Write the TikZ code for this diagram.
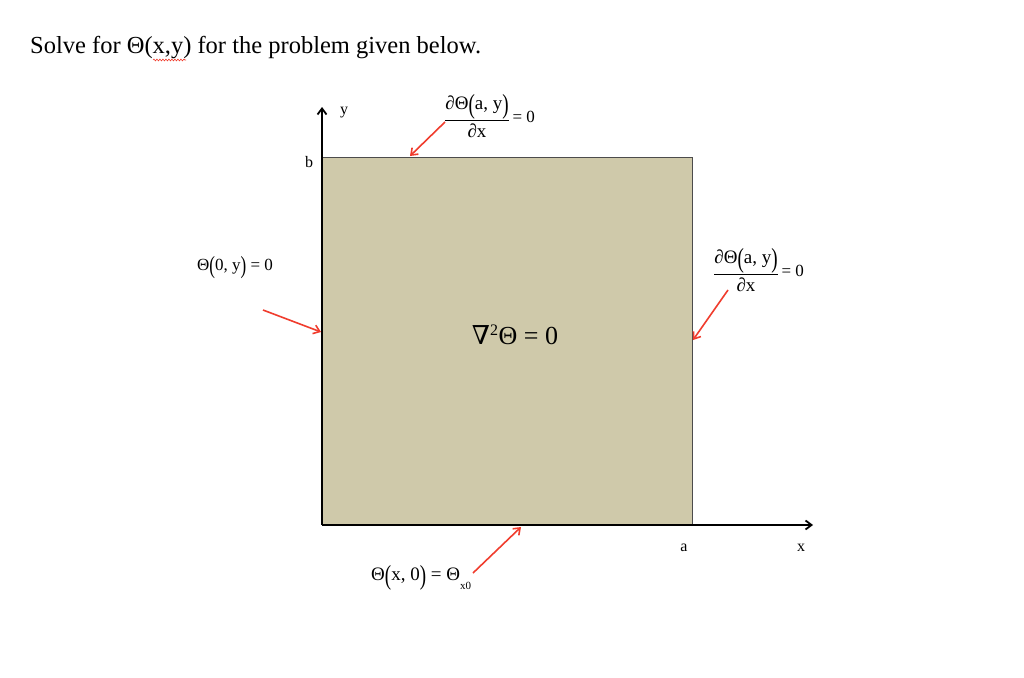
\documentclass[tikz,border=0pt]{standalone}
\usepackage{fontspec}
\usepackage{graphicx}
\setmainfont{Liberation Serif}
\newfontfamily\dvs{DejaVu Serif}
\usetikzlibrary{arrows.meta,decorations.pathmorphing}
\definecolor{tan}{RGB}{207,201,170}
\definecolor{redarrow}{RGB}{240,60,45}
\newcommand{\bigp}[1]{\raisebox{-0.22em}{\scalebox{1}[1.45]{#1}}}
\newcommand{\fracbc}{$\frac{\mbox{\fontsize{19}{19}\selectfont\rule[-5pt]{0pt}{5pt}∂Θ\bigp{(}a, y\bigp{)}}}{\mbox{\fontsize{19}{19}\selectfont\rule{0pt}{17pt}∂x}}$\,\raisebox{0.1em}{= 0}}
\begin{document}
\begin{tikzpicture}[x=1pt,y=-1pt,
  lab/.style={inner sep=0pt,font=\fontsize{16}{18}\selectfont},
  bc/.style={inner sep=0pt,font=\fontsize{17}{19}\selectfont},
  redarr/.style={draw=redarrow,line width=1.6pt,-{Straight Barb[length=6pt,width=9pt]}},
  axis/.style={draw=black,line width=1.8pt,-{Straight Barb[length=6pt,width=9pt]}}]
\useasboundingbox (0,0) rectangle (1024,677);
\fill[white] (0,0) rectangle (1024,677);
% title
\node[anchor=base west,inner sep=0pt,font=\fontsize{24.5}{27}\selectfont] (title) at (30,54)
  {Solve for Θ(x,y) for the problem given below.};
\draw[redarrow,line width=0.6pt,decorate,decoration={snake,amplitude=0.9pt,segment length=3pt}] (153,60) -- (186,60);
% domain
\node[draw=black!70,line width=0.6pt,fill=tan,minimum width=370pt,minimum height=368pt,inner sep=0pt,anchor=north west] (sq) at (322,157) {};
% axes
\coordinate (o) at (322,525);
\coordinate (ytip) at (322,107);
\coordinate (xtip) at (813,525);
\draw[axis] (o) -- (ytip);
\draw[axis] (o) -- (xtip);
\node[lab] (ylab) at (344,113) {y};
\node[lab] (blab) at (309,162) {b};
\node[lab] (alab) at (684,548) {a};
\node[lab] (xlab) at (801,548) {x};
% centre
\node[inner sep=0pt,font=\fontsize{26}{28}\selectfont] (lap) at (515,335) {{\dvs ∇}\textsuperscript{\fontsize{16}{16}\selectfont 2}Θ = 0};
% top BC
\node[bc,anchor=west] (topbc) at (444,116) {\fracbc};
\coordinate (t1) at (445,122);
\coordinate (t2) at (410,156);
\draw[redarr] (t1) -- (t2);
% right BC
\node[bc,anchor=west] (rightbc) at (713,270) {\fracbc};
\coordinate (r1) at (728,290);
\coordinate (r2) at (693,340);
\draw[redarr] (r1) -- (r2);
% left BC
\node[bc,anchor=west] (leftbc) at (197,268) {Θ\bigp{(}0, y\bigp{)} = 0};
\coordinate (l1) at (263,310);
\coordinate (l2) at (321,332);
\draw[redarr] (l1) -- (l2);
% bottom BC
\node[inner sep=0pt,font=\fontsize{19}{21}\selectfont,anchor=west] (botbc) at (371,578) {Θ\bigp{(}x, 0\bigp{)} = Θ\raisebox{-0.5em}{\fontsize{11}{11}\selectfont x0}};
\coordinate (b1) at (473,573);
\coordinate (b2) at (521,527);
\draw[redarr] (b1) -- (b2);
\end{tikzpicture}
\end{document}
